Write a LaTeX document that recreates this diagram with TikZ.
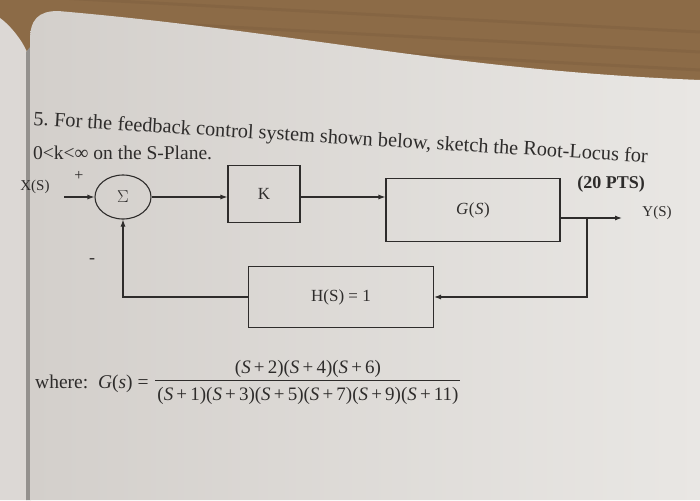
\documentclass[tikz,border=0pt]{standalone}
\usepackage{fontspec}
\setmainfont{Liberation Serif}
\usetikzlibrary{shapes.geometric,arrows.meta,calc}
\definecolor{wood}{HTML}{8C6B47}
\definecolor{wooddark}{HTML}{6A4E33}
\definecolor{paperA}{HTML}{D3CFCB}
\definecolor{paperB}{HTML}{E9E7E4}
\definecolor{ink}{HTML}{2E2C2B}
\newcommand\Sit{\textit{S}}
\begin{document}
\begin{tikzpicture}[x=1pt,y=-1pt,
  ink/.style={draw=ink,line width=1.1pt},
  blockbox/.style={ink,rectangle,fill=none,text=ink,font=\fontsize{17}{19}\selectfont},
  sumnode/.style={ink,ellipse,minimum width=56pt,minimum height=44pt,inner sep=0pt,text=ink,font=\fontsize{18}{20}\selectfont},
  sig/.style={ink,-{Latex[length=7pt,width=5pt]}},
  lbl/.style={text=ink,inner sep=0pt,font=\fontsize{15}{17}\selectfont},
  title/.style={text=ink,inner sep=0pt,font=\fontsize{20.3}{23}\selectfont},
  tseg/.style={title,anchor=base west,rotate=-3.5},
  fml/.style={text=ink,inner sep=0pt,font=\fontsize{19}{22}\selectfont}]
\useasboundingbox (0,0) rectangle (700,500);
% background: wood, left page, main page
\fill[wood] (0,0) rectangle (700,500);
\foreach \yy in {10,30,48}{\draw[wooddark,line width=3pt,opacity=0.2] (60,\yy-12) -- (700,\yy+22);}
\fill[paperA!80!white] (0,500) -- (0,18) .. controls (10,25) and (22,40) .. (27,52) -- (27,500) -- cycle;
\fill[paperA!70!black] (26,500) -- (26,52) -- (31,46) -- (31,500) -- cycle;
\shade[left color=paperA,right color=paperB]
  (30,500) -- (30,40) .. controls (30,20) and (38,11) .. (58,11)
  .. controls (300,32) and (450,70) .. (700,80) -- (700,500) -- cycle;
% title (first line set in pieces along its slanted baseline)
\node[tseg] (t1a) at (33,125) {5.};
\node[tseg] (t1b) at (t1a.base east) {\ For the};
\node[tseg] (t1c) at (t1b.base east) {\ feedback};
\node[tseg] (t1d) at (t1c.base east) {\ control system shown below,};
\node[tseg] (t1e) at (t1d.base east) {\ sketch the Root-Locus for};
\node[title,font=\fontsize{19.5}{22}\selectfont,anchor=base west] (t2) at (33,159) {0<k<∞ on the S-Plane.};
% blocks
\node[sumnode] (sum) at (123,197) {$\Sigma$};
\node[blockbox,minimum width=72pt,minimum height=57pt] (K) at (264,194) {K};
\node[blockbox,minimum width=174pt,minimum height=63pt] (G) at (473,210) {\textit{G}\kern0.5pt(\kern0.5pt\textit{S}\kern0.5pt)};
\node[blockbox,minimum width=185pt,minimum height=61pt] (H) at (341,297) {H(S) = 1};
% labels
\node[lbl] (xs) at (35,187) {X(S)};
\node[lbl,font=\fontsize{16}{18}\selectfont] (plus) at (79,176) {+};
\node[lbl,font=\fontsize{18}{20}\selectfont] (minus) at (92,261) {-};
\node[lbl] (ys) at (657,213) {Y(S)};
\node[lbl,font=\bfseries\fontsize{18}{20}\selectfont] (pts) at (611,184) {(20 PTS)};
% connectors
\coordinate (xin) at (64,197);
\coordinate (br) at (587,218);
\coordinate (yout) at (622,218);
\draw[sig] (xin) -- (sum.west);
\draw[sig] (sum.east) -- (K.west |- sum.east);
\draw[sig] (K.east |- sum.east) -- (G.west |- sum.east);
\draw[ink] (G.east |- br) -- (br);
\draw[sig] (br) -- (yout);
\draw[sig] (br) |- (H.east);
\draw[sig] (H.west) -| (sum.south);
% formula
\node[fml,font=\fontsize{19.5}{22}\selectfont,anchor=base west] (where) at (35,388) {where:\ \ \textit{G}(\textit{s}) =};
\node[fml,anchor=base] (num) at (308,373) {(\Sit\,+\,2)(\Sit\,+\,4)(\Sit\,+\,6)};
\node[fml,anchor=base] (den) at (308,400) {(\Sit\,+\,1)(\Sit\,+\,3)(\Sit\,+\,5)(\Sit\,+\,7)(\Sit\,+\,9)(\Sit\,+\,11)};
\draw[ink,line width=0.9pt] (155,380) -- (460,380);
\end{tikzpicture}
\end{document}
